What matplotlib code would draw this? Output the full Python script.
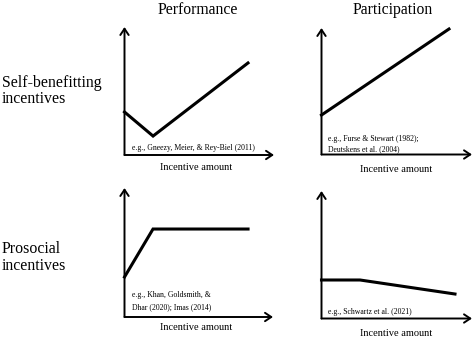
import matplotlib
matplotlib.use('Agg')
import matplotlib.pyplot as plt

plt.rcParams['font.family'] = ['Liberation Serif', 'DejaVu Serif']

W, H = 474, 337

col_titles = ['Performance', 'Participation']
row_titles = [['Self-benefitting', 'incentives'], ['Prosocial', 'incentives']]
x_label = 'Incentive amount'

# Schematic curves, axes run 0..10
self_perf_x = [0, 1.91, 8.26]
self_perf_y = [3.36, 1.48, 7.19]
self_part_x = [0, 8.47]
self_part_y = [3.12, 9.92]
pro_perf_x = [0, 1.92, 8.32]
pro_perf_y = [3.10, 6.82, 6.82]
pro_part_x = [0, 2.56, 8.87]
pro_part_y = [3.02, 3.02, 1.92]

citations = [
  ['e.g., Gneezy, Meier, & Rey-Biel (2011)'],
  ['e.g., Furse & Stewart (1982);', 'Deutskens et al. (2004)'],
  ['e.g., Khan, Goldsmith, &', 'Dhar (2020); Imas (2014)'],
  ['e.g., Schwartz et al. (2021)'],
]

def fx(px):
  return px / W

def fy(py):
  return 1 - py / H

fig = plt.figure(figsize=(W / 100, H / 100), dpi=100)

# origin x, origin y, x arrow tip, y arrow tip (pixels), citation pos (data), label pos (pixels)
panels = [
  ((124.5, 155, 274, 27), self_perf_x, self_perf_y, (0.5, [0.39]), (196, 170)),
  ((321.5, 154.5, 472, 28), self_part_x, self_part_y, (0.43, [1.07, 0.25]), (396, 172)),
  ((124.5, 317, 273, 188), pro_perf_x, pro_perf_y, (0.5, [1.55, 0.62]), (196, 330)),
  ((321.5, 318.5, 472, 191), pro_part_x, pro_part_y, (0.43, [0.35]), (396, 336)),
]

for i, (box, xs, ys, cit, lab) in enumerate(panels):
  ox, oy, xt, yt = box
  ax = fig.add_axes([fx(ox), fy(oy), (xt - ox) / W, (oy - yt) / H])
  ax.set_xlim(0, 10)
  ax.set_ylim(0, 10)
  ax.axis('off')

  # axes with open arrow heads
  arrow = dict(arrowstyle='->,head_length=0.45,head_width=0.3', lw=1.4,
               color='black', shrinkA=0, shrinkB=0, mutation_scale=10)
  ax.annotate('', xy=(1, 0), xytext=(0, 0), xycoords='axes fraction',
              arrowprops=arrow, annotation_clip=False)
  ax.annotate('', xy=(0, 1), xytext=(0, 0), xycoords='axes fraction',
              arrowprops=arrow, annotation_clip=False)

  ax.plot(xs, ys, color='black', lw=2.2, solid_joinstyle='miter', clip_on=False)

  cx, cys = cit
  for line, cy in zip(citations[i], cys):
    ax.text(cx, cy, line, fontsize=5.6, va='baseline', ha='left')

  fig.text(fx(lab[0]), fy(lab[1]), x_label, fontsize=7.5, ha='center', va='baseline')

fig.text(fx(198), fy(14.5), col_titles[0], fontsize=11.3, ha='center', va='baseline')
fig.text(fx(393), fy(14.5), col_titles[1], fontsize=11.3, ha='center', va='baseline')

fig.text(fx(2), fy(87), row_titles[0][0], fontsize=11.4, ha='left', va='baseline')
fig.text(fx(2), fy(103), row_titles[0][1], fontsize=11.4, ha='left', va='baseline')
fig.text(fx(2), fy(253), row_titles[1][0], fontsize=11.4, ha='left', va='baseline')
fig.text(fx(2), fy(270), row_titles[1][1], fontsize=11.4, ha='left', va='baseline')

fig.savefig('out.png', dpi=100)
